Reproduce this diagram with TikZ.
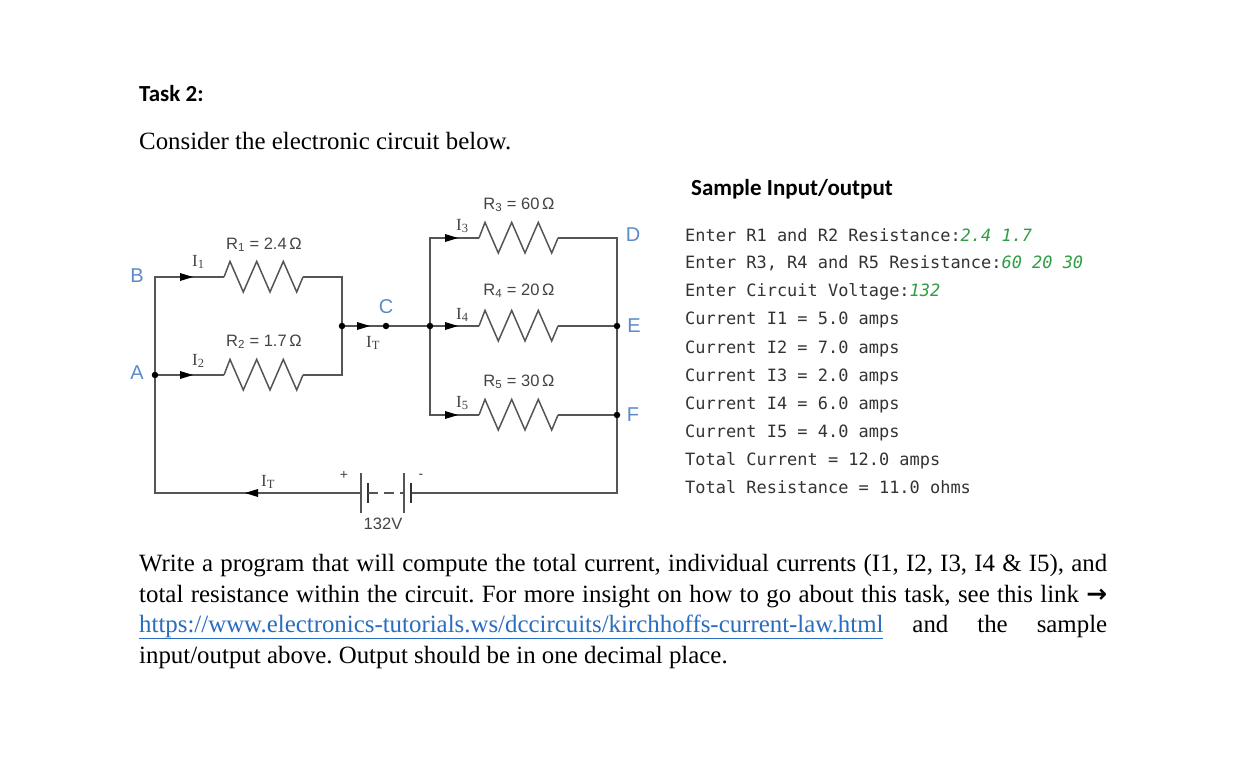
\documentclass[tikz,border=0pt]{standalone}
\usepackage{fontspec}
\setmainfont{Liberation Serif}
\newfontfamily\calf{Carlito}
\newfontfamily\arl{Liberation Sans}
\newfontfamily\mon{DejaVu Sans Mono}
\newfontfamily\arrowf{DejaVu Sans}
\usetikzlibrary{arrows.meta}
\definecolor{wire}{HTML}{555555}
\definecolor{ltr}{HTML}{5B8BC9}
\definecolor{lab}{HTML}{444444}
\definecolor{grn}{HTML}{2E9E44}
\definecolor{lnk}{HTML}{2A6DC0}
\newcommand{\gr}[1]{\textcolor{grn}{\itshape #1}}
\newcommand{\sbs}[1]{\raisebox{-2.5pt}{\fontsize{12.5}{12.5}\selectfont #1}}
\frenchspacing
\begin{document}
\begin{tikzpicture}[x=1pt,y=-1pt,
  wireline/.style={draw=wire,line width=1.5pt,line join=miter},
  dotmark/.style={circle,fill=black,inner sep=0pt,minimum size=6.5pt},
  letterlbl/.style={text=ltr,font=\arl\fontsize{20}{20}\selectfont,inner sep=0pt},
  rlbl/.style={text=lab,font=\arl\fontsize{16.5}{16.5}\selectfont,inner sep=0pt,anchor=base},
  ilbl/.style={text=lab,font=\fontsize{17}{17}\selectfont,inner sep=0pt,anchor=base west},
  body/.style={font=\fontsize{24.87}{24.87}\selectfont,inner sep=0pt,anchor=base west},
  heading/.style={font=\calf\bfseries\fontsize{23}{23}\selectfont,inner sep=0pt,anchor=base west},
  mono/.style={text=black!80,font=\mon\fontsize{16.95}{16.95}\selectfont,inner sep=0pt,anchor=base west},
  resist/.pic={\draw[wireline] (0,0)--(6,-15.6)--(19.3,15)--(32.7,-15.6)--(46,15)--(59.3,-15.6)--(72.7,15)--(79,0);}
]
\useasboundingbox (0,0) rectangle (1251,765);
\fill[white] (0,0) rectangle (1251,765);

% junctions and corners
\coordinate (B) at (155,277);
\coordinate (A) at (155,375);
\coordinate (BL) at (155,493);
\coordinate (R1a) at (224,277);
\coordinate (R1b) at (303,277);
\coordinate (R2a) at (224,375);
\coordinate (R2b) at (303,375);
\coordinate (TR1) at (342,277);
\coordinate (TR2) at (342,375);
\coordinate (J1) at (342,326);
\coordinate (C) at (386,326);
\coordinate (J2) at (430,326);
\coordinate (T3) at (430,238);
\coordinate (T5) at (430,415);
\coordinate (R3a) at (479,238);
\coordinate (R3b) at (558,238);
\coordinate (R4a) at (479,326);
\coordinate (R4b) at (558,326);
\coordinate (R5a) at (479,415);
\coordinate (R5b) at (558,415);
\coordinate (D) at (617,238);
\coordinate (E) at (617,326);
\coordinate (F) at (617,415);
\coordinate (BR) at (617,493);
\coordinate (P1) at (361,493);
\coordinate (P2) at (368,493);
\coordinate (P3) at (404,493);
\coordinate (P4) at (411,493);

% wires
\draw[wireline] (R1a) -- (B) -- (A) -- (BL) -- (P1);
\draw[wireline] (A) -- (R2a);
\draw[wireline] (R1b) -- (TR1) -- (TR2) -- (R2b);
\draw[wireline] (J1) -- (C) -- (J2) -- (R4a);
\draw[wireline] (R3a) -- (T3) -- (T5) -- (R5a);
\draw[wireline] (R3b) -- (D) -- (BR) -- (P4);
\draw[wireline] (R4b) -- (E);
\draw[wireline] (R5b) -- (F);
\pic at (R1a) {resist};
\pic at (R2a) {resist};
\pic at (R3a) {resist};
\pic at (R4a) {resist};
\pic at (R5a) {resist};

% dots
\node[dotmark] (dA) at (A) {};
\node[dotmark] (dJ1) at (J1) {};
\node[dotmark] (dC) at (C) {};
\node[dotmark] (dJ2) at (J2) {};
\node[dotmark] (dE) at (E) {};
\node[dotmark] (dF) at (F) {};

% arrowheads
\foreach \s/\e/\y in {180/193/277,180/193/375,357/370/326,445/458/238,445/458/326,445/458/415,258/245/493}
  \fill[black] (\s,\y-4) -- (\e,\y) -- (\s,\y+4) -- cycle;

% battery
\draw[draw=wire,line width=1.5pt] (361,473) -- (361,513);
\draw[draw=black!80,line width=1.8pt] (368,483) -- (368,503);
\draw[draw=wire,line width=1.5pt] (404,473) -- (404,513);
\draw[draw=black!80,line width=1.8pt] (411,483) -- (411,503);
\draw[wireline] (P2) -- (378,493);
\draw[wireline] (384,493) -- (394,493);
\draw[wireline] (400,493) -- (P3);

% circuit labels
\node[letterlbl] (lB) at (137,276) {B};
\node[letterlbl] (lA) at (137,373) {A};
\node[letterlbl] (lC) at (386,307) {C};
\node[letterlbl] (lD) at (633,235) {D};
\node[letterlbl] (lE) at (634,326) {E};
\node[letterlbl] (lF) at (633,415) {F};
\node[rlbl] (r1) at (264,249) {R\textsubscript{1} = 2.4\,Ω};
\node[rlbl] (r2) at (264,346) {R\textsubscript{2} = 1.7\,Ω};
\node[rlbl] (r3) at (519,209) {R\textsubscript{3} = 60\,Ω};
\node[rlbl] (r4) at (519,295) {R\textsubscript{4} = 20\,Ω};
\node[rlbl] (r5) at (519,386) {R\textsubscript{5} = 30\,Ω};
\node[ilbl] (i1) at (192,266) {I\sbs{1}};
\node[ilbl] (i2) at (192,365) {I\sbs{2}};
\node[ilbl] (i3) at (456,230) {I\sbs{3}};
\node[ilbl] (i4) at (456,319) {I\sbs{4}};
\node[ilbl] (i5) at (456,407) {I\sbs{5}};
\node[ilbl] (it1) at (366,347) {I\sbs{T}};
\node[ilbl] (it2) at (261,486) {I\sbs{T}};
\node[rlbl,font=\arl\fontsize{14}{14}\selectfont] (plus) at (344,479) {+};
\node[rlbl,font=\arl\fontsize{14}{14}\selectfont] (minus) at (421,478) {-};
\node[rlbl] (volt) at (383,529) {132V};

% text
\node[heading] (task) at (139,102) {Task 2:};
\node[body] (intro) at (139,150) {Consider the electronic circuit below.};
\node[heading] (sample) at (691,196) {Sample Input/output};
\node[mono] (m1) at (685,241) {Enter R1 and R2 Resistance:\gr{2.4 1.7}};
\node[mono] (m2) at (685,268) {Enter R3, R4 and R5 Resistance:\gr{60 20 30}};
\node[mono] (m3) at (685,296) {Enter Circuit Voltage:\gr{132}};
\node[mono] (m4) at (685,324) {Current I1 = 5.0 amps};
\node[mono] (m5) at (685,353) {Current I2 = 7.0 amps};
\node[mono] (m6) at (685,381) {Current I3 = 2.0 amps};
\node[mono] (m7) at (685,409) {Current I4 = 6.0 amps};
\node[mono] (m8) at (685,437) {Current I5 = 4.0 amps};
\node[mono] (m9) at (685,465) {Total Current = 12.0 amps};
\node[mono] (m10) at (685,493) {Total Resistance = 11.0 ohms};
\node[body] (p1) at (139,571) {\makebox[968pt][s]{Write a program that will compute the total current, individual currents (I1, I2, I3, I4 \& I5), and}};
\node[body] (p2) at (139,602) {\makebox[968pt][s]{total resistance within the circuit. For more insight on how to go about this task, see this link {\arrowf\bfseries →}}};
\node[body] (p3) at (139,632) {\makebox[968pt][s]{\textcolor{lnk}{\underline{https://www.electronics-tutorials.ws/dccircuits/kirchhoffs-current-law.html}} \ and \ the \ sample}};
\node[body] (p4) at (139,663) {input/output above. Output should be in one decimal place.};
\end{tikzpicture}
\end{document}
